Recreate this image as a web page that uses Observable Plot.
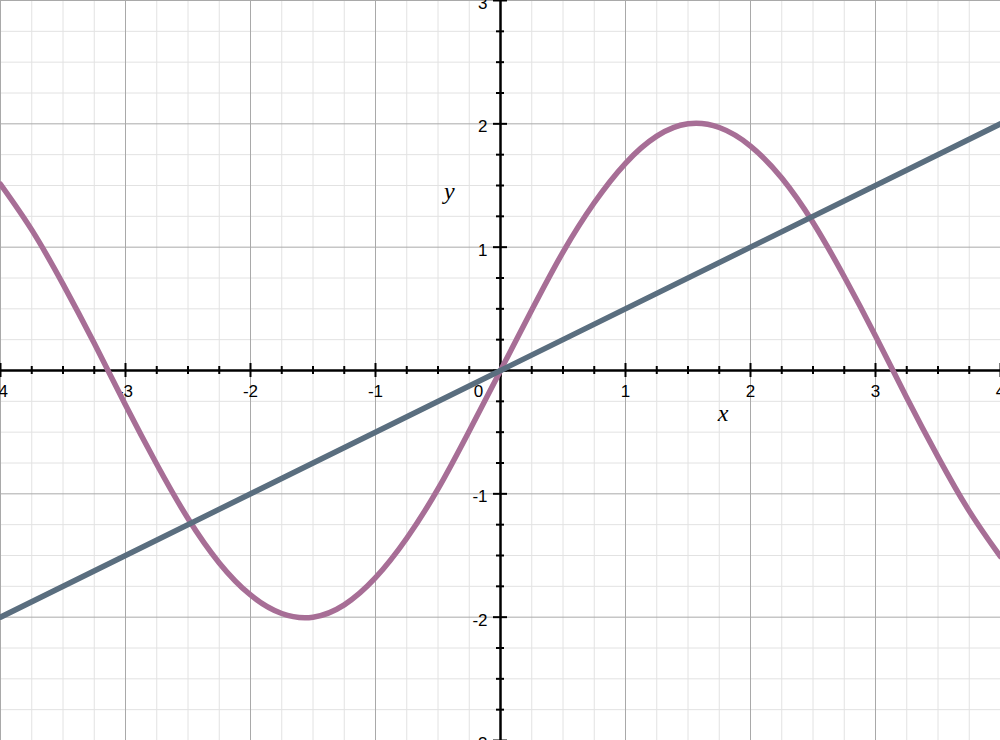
<!DOCTYPE html>
<html>
<head>
<meta charset="utf-8">
<script src="https://cdn.jsdelivr.net/npm/d3@7"></script>
<script src="https://cdn.jsdelivr.net/npm/@observablehq/plot@0.6"></script>
<style>
  html, body { margin: 0; padding: 0; background: #fff; overflow: hidden; }
  #chart svg { display: block; }
</style>
</head>
<body>
<div id="chart"></div>
<script>
// Curve y = 2·sin(x)
const sineX = [-4, -3.75, -3.5, -3.25, -3, -2.75, -2.5, -2.25, -2, -1.75, -1.5, -1.25, -1, -0.75, -0.5, -0.25,
  0, 0.25, 0.5, 0.75, 1, 1.25, 1.5, 1.75, 2, 2.25, 2.5, 2.75, 3, 3.25, 3.5, 3.75, 4];
const sineY = [1.51, 1.14, 0.70, 0.22, -0.28, -0.76, -1.20, -1.56, -1.82, -1.97, -2.00, -1.90, -1.68, -1.36, -0.96, -0.49,
  0, 0.49, 0.96, 1.36, 1.68, 1.90, 2.00, 1.97, 1.82, 1.56, 1.20, 0.76, 0.28, -0.22, -0.70, -1.14, -1.51];
// Straight line y = x/2
const lineX = [-4, 4];
const lineY = [-2, 2];

// Tick labels
const xTickValues = [-4, -3, -2, -1, 1, 2, 3, 4];
const xTickLabels = ["-4", "-3", "-2", "-1", "1", "2", "3", "4"];
const yTickValues = [-3, -2, -1, 1, 2, 3];
const yTickLabels = ["-3", "-2", "-1", "1", "2", "3"];
const originLabel = ["0"];

// grid values
const xMajor = d3.range(-4, 4.001, 1);
const xMinor = d3.range(-4, 4.001, 0.25).filter(v => Math.abs(v - Math.round(v)) > 1e-9);
const yMajor = d3.range(-3, 3.001, 1);
const yMinor = d3.range(-3, 3.001, 0.25).filter(v => Math.abs(v - Math.round(v)) > 1e-9);

const sine = sineX.map((x, i) => ({x, y: sineY[i]}));
const straight = lineX.map((x, i) => ({x, y: lineY[i]}));
const xLabels = xTickValues.map((v, i) => ({v, t: xTickLabels[i]}));
const yLabels = yTickValues.map((v, i) => ({v, t: yTickLabels[i]}));

const purple = "#a76e96";
const slate = "#5a6e7f";
const font = "'Liberation Sans', Arial, Helvetica, sans-serif";
const serif = "'Liberation Serif', 'DejaVu Serif', serif";

const chart = Plot.plot({
  width: 1000,
  height: 740,
  margin: 0,
  style: {background: "#fff", overflow: "hidden"},
  x: {domain: [-4, 4], axis: null},
  y: {domain: [-3, 3], axis: null},
  marks: [
    // minor grid
    Plot.ruleX(xMinor, {stroke: "#e2e2e2", strokeWidth: 1}),
    Plot.ruleY(yMinor, {stroke: "#e2e2e2", strokeWidth: 1}),
    // major grid
    Plot.ruleX(xMajor, {stroke: "#a9a9a9", strokeWidth: 1}),
    Plot.ruleY(yMajor, {stroke: "#a9a9a9", strokeWidth: 1}),
    // axes
    Plot.ruleY([0], {stroke: "#000", strokeWidth: 2.5}),
    Plot.ruleX([0], {stroke: "#000", strokeWidth: 2.5}),
    // x-axis ticks
    Plot.ruleX(xMinor, {x: d => d, y1: 0, y2: 0, insetTop: -4, insetBottom: -4, stroke: "#000", strokeWidth: 2}),
    Plot.ruleX(xMajor, {x: d => d, y1: 0, y2: 0, insetTop: -7, insetBottom: -7, stroke: "#000", strokeWidth: 2}),
    // y-axis ticks
    Plot.ruleY(yMinor, {y: d => d, x1: 0, x2: 0, insetLeft: -4, insetRight: -4, stroke: "#000", strokeWidth: 2}),
    Plot.ruleY(yMajor, {y: d => d, x1: 0, x2: 0, insetLeft: -7, insetRight: -7, stroke: "#000", strokeWidth: 2}),
    // tick labels
    Plot.text(xLabels, {x: "v", y: 0, text: "t", dy: 21, fontSize: 17, fontFamily: font, fill: "#000"}),
    Plot.text(yLabels, {x: 0, y: "v", text: "t", dx: -13, dy: 3, textAnchor: "end", fontSize: 17, fontFamily: font, fill: "#000"}),
    Plot.text(originLabel, {x: 0, y: 0, text: d => d, dx: -22, dy: 21, fontSize: 17, fontFamily: font, fill: "#000"}),
    // axis names
    Plot.text(["x"], {x: 1.78, y: -0.35, text: d => d, fontSize: 24, fontStyle: "italic", fontFamily: serif, fill: "#000"}),
    Plot.text(["y"], {x: -0.41, y: 1.45, text: d => d, fontSize: 24, fontStyle: "italic", fontFamily: serif, fill: "#000"}),
    // curves
    Plot.line(sine, {x: "x", y: "y", stroke: purple, strokeWidth: 5.5, curve: "natural"}),
    Plot.line(straight, {x: "x", y: "y", stroke: slate, strokeWidth: 5.5})
  ]
});
document.getElementById("chart").append(chart);
</script>
</body>
</html>
